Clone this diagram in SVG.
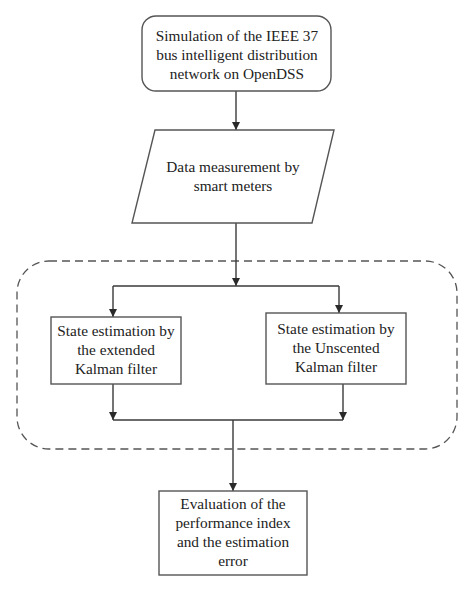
<svg xmlns="http://www.w3.org/2000/svg" width="474" height="592" viewBox="0 0 474 592">
<defs>
<marker id="ah" markerUnits="userSpaceOnUse" markerWidth="9" markerHeight="9" refX="8" refY="4" orient="auto">
<path d="M0,0 L8,4 L0,8 z" fill="#2a2a2a"/>
</marker>
<style>
.box{fill:#fff;stroke:#555;stroke-width:1.4}
.cn{fill:none;stroke:#3a3a3a;stroke-width:1.4}
.dash{fill:none;stroke:#555;stroke-width:1.3;stroke-dasharray:8 5}
text{font-family:"Liberation Serif","Times New Roman",serif;font-size:15.3px;fill:#222;text-anchor:middle}
</style>
</defs>
<rect width="474" height="592" fill="#fff"/>
<rect id="group" class="dash" x="17" y="261" width="440" height="188" rx="32" ry="32"/>
<g id="connectors">
<path class="cn" d="M236,91 V130" marker-end="url(#ah)"/>
<path class="cn" d="M236,223 V286" marker-end="url(#ah)"/>
<path class="cn" d="M113,286 H339"/>
<path class="cn" d="M113,286 V317" marker-end="url(#ah)"/>
<path class="cn" d="M339,286 V313" marker-end="url(#ah)"/>
<path class="cn" d="M113,384 V420" marker-end="url(#ah)"/>
<path class="cn" d="M343,384 V420" marker-end="url(#ah)"/>
<path class="cn" d="M113,420 H343"/>
<path class="cn" d="M233,420 V491" marker-end="url(#ah)"/>
</g>
<g id="sim">
<rect class="box" x="142" y="16" width="189" height="75" rx="14" ry="14"/>
<text x="237" y="41">Simulation of the IEEE 37</text>
<text x="237" y="60">bus intelligent distribution</text>
<text x="237" y="79">network on OpenDSS</text>
</g>
<g id="data">
<polygon class="box" points="155,130 334,130 312,223 132,223"/>
<text x="233" y="172">Data measurement by</text>
<text x="233" y="191">smart meters</text>
</g>
<g id="ekf">
<rect class="box" x="51" y="317" width="130" height="67"/>
<text x="116" y="336">State estimation by</text>
<text x="116" y="355">the extended</text>
<text x="116" y="374">Kalman filter</text>
</g>
<g id="ukf">
<rect class="box" x="266" y="313" width="140" height="71"/>
<text x="336" y="334">State estimation by</text>
<text x="336" y="353">the Unscented</text>
<text x="336" y="372">Kalman filter</text>
</g>
<g id="eval">
<rect class="box" x="159" y="491" width="148" height="84"/>
<text x="233" y="509">Evaluation of the</text>
<text x="233" y="528">performance index</text>
<text x="233" y="547">and the estimation</text>
<text x="233" y="566">error</text>
</g>
</svg>
